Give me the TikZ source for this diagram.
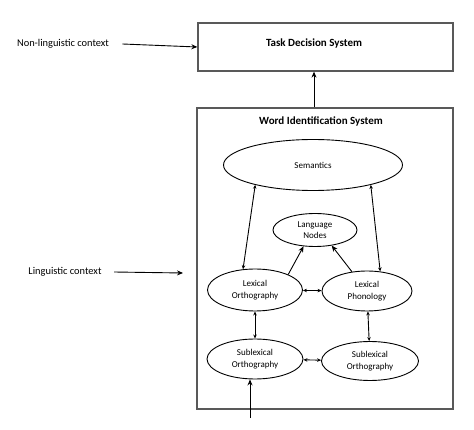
\documentclass[tikz,border=0pt]{standalone}
\usepackage{fontspec}
\setmainfont{Carlito}
\usetikzlibrary{arrows.meta, shapes.geometric}

\tikzset{
  sysbox/.style={draw=black!65, line width=1.3pt, rectangle, inner sep=0pt},
  systitle/.style={font=\fontsize{11}{13}\selectfont\bfseries},
  stage/.style={draw, ellipse, line width=0.9pt, inner sep=0pt, align=center,
    font=\fontsize{9}{11.5}\selectfont},
  ctx/.style={font=\fontsize{10.4}{12}\selectfont},
  link/.style={line width=0.9pt, -{Stealth[length=6pt,width=5pt]}},
  dlink/.style={line width=0.9pt, {Stealth[length=4pt,width=3.5pt]}-{Stealth[length=4pt,width=3.5pt]}},
}

\begin{document}
\begin{tikzpicture}[x=1pt, y=-1pt]
  \useasboundingbox (0,0) rectangle (474,430);
  % systems
  \node[sysbox, minimum width=255pt, minimum height=48pt] (TDS) at (325.5,47) {};
  \node[systitle] (TDSt) at (314,44) {Task Decision System};
  \node[sysbox, minimum width=256pt, minimum height=301pt] (WIS) at (325,258.5) {};
  \node[systitle] (WISt) at (321,121) {Word Identification System};
  % processing stages
  \node[stage, minimum width=179pt, minimum height=51pt] (Sem) at (313,165) {Semantics};
  \node[stage, minimum width=84pt, minimum height=33pt] (LN) at (315,230) {Language\\Nodes};
  \node[stage, minimum width=95pt, minimum height=42pt] (LO) at (255,290) {Lexical\\Orthography};
  \node[stage, minimum width=90pt, minimum height=40pt] (LP) at (367,291) {Lexical\\Phonology};
  \node[stage, minimum width=96pt, minimum height=40pt] (SO) at (255,359) {Sublexical\\Orthography};
  \node[stage, minimum width=97pt, minimum height=39pt] (SO2) at (370,361) {Sublexical\\Orthography};
  % context
  \node[ctx] (NLC) at (63,44) {Non-linguistic context};
  \node[ctx] (LC) at (65,272) {Linguistic context};
  \coordinate (LCend) at (183,273);
  \coordinate (Input) at (250,418);
  % connectors
  \draw[link] (NLC.east) ++(10pt,0) -- (TDS.west);
  \draw[link] (LC.east) ++(9pt,0) -- (LCend);
  \draw[link] (WIS.north -| TDSt) -- (TDS.south -| TDSt);
  \draw[dlink] (Sem.199) -- (LO.120);
  \draw[dlink] (Sem.341) -- (LP.56);
  \draw[link] (LO.25) -- (LN.235);
  \draw[link] (LP.128) -- (LN.317);
  \draw[dlink] (LO) -- (LP);
  \draw[dlink] (LO) -- (SO);
  \draw[dlink] (LP) -- (SO2);
  \draw[dlink] (SO) -- (SO2);
  \draw[link] (Input) -- (Input |- SO.south);
\end{tikzpicture}
\end{document}
